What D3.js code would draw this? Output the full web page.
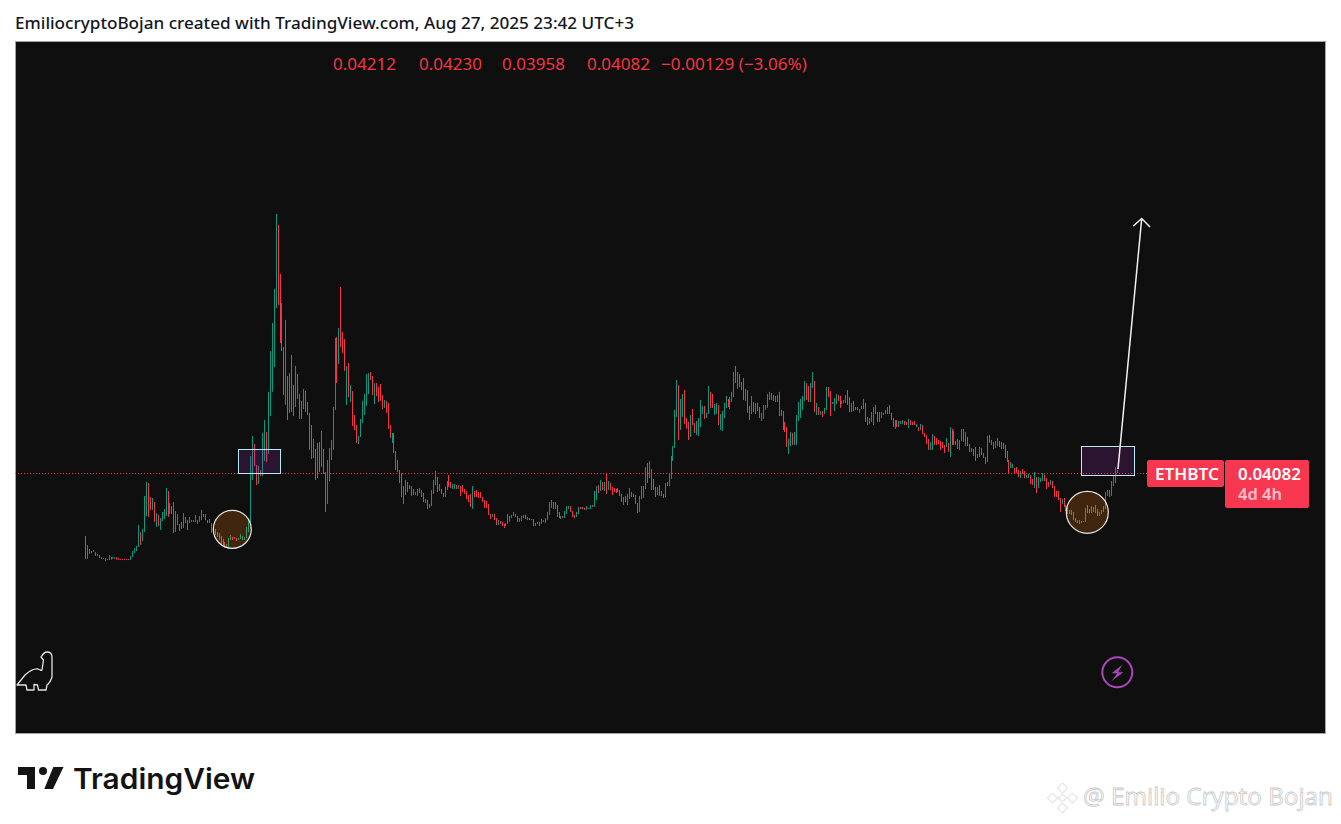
<!DOCTYPE html>
<html>
<head>
<meta charset="utf-8">
<title>ETHBTC</title>
<script src="https://cdn.jsdelivr.net/npm/d3@7/dist/d3.min.js"></script>
<style>
  body { margin: 0; background: #fff; }
  svg { display: block; }
</style>
</head>
<body>
<svg id="chart"></svg>
<script>
// weekly ETHBTC, prices in thousandths of a BTC
let opens = [
  12.9,2.7,4.9,6.2,6.6,5.8,4.0,4.4,3.5,3.1,
  3.1,2.2,2.2,3.5,2.8,2.7,3.5,3.1,2.7,2.7,
  2.7,2.7,2.7,2.2,3.5,5.3,6.2,8.0,14.6,10.6,
  14.6,21.7,36.3,30.1,24.4,27.9,16.8,22.2,15.5,19.5,
  20.4,21.7,32.8,22.6,26.1,27.9,14.6,17.7,18.2,19.1,
  16.4,21.3,19.9,18.6,19.9,19.9,19.1,18.2,19.1,19.9,
  22.6,22.6,19.9,20.4,18.6,17.3,16.0,14.6,14.2,12.9,
  11.5,10.2,7.5,7.5,11.1,12.4,12.4,12.0,11.1,11.5,
  11.1,11.1,12.0,14.6,16.2,37.7,53.6,44.3,35.9,42.1,
  39.4,46.1,58.9,49.2,66.0,76.7,87.7,113.9,150.7,128.9,
  116.1,96.6,70.9,83.7,67.4,93.1,79.8,70.0,84.6,75.8,
  72.7,69.1,77.1,72.2,67.4,62.0,47.4,51.4,38.5,54.5,
  43.4,51.4,41.2,27.0,37.2,46.5,51.0,68.7,101.0,89.1,
  123.2,103.2,100.1,70.9,89.5,72.2,77.1,66.5,62.0,53.6,
  56.7,62.9,66.5,70.5,75.8,85.5,83.7,71.3,80.6,78.9,
  80.2,75.3,69.6,72.7,71.8,62.0,54.1,58.5,50.5,46.5,
  42.1,40.8,27.0,31.0,36.8,35.4,35.0,31.0,31.0,30.6,
  31.9,33.2,31.9,29.2,28.8,27.0,26.1,31.5,35.4,39.0,
  32.8,33.7,31.9,30.1,33.2,39.9,36.8,33.7,33.7,35.4,
  33.7,35.0,35.4,33.7,32.8,31.0,31.5,24.8,32.8,33.2,
  32.3,32.3,30.1,28.8,28.4,27.0,22.6,21.3,22.6,20.8,
  17.7,19.5,19.1,18.2,17.3,18.2,19.1,20.8,21.7,22.6,
  21.7,19.1,19.5,20.8,22.2,19.9,20.8,20.4,20.4,17.3,
  18.2,19.1,18.2,19.9,18.6,19.9,22.2,25.3,27.9,27.9,
  26.6,23.5,20.4,21.7,20.8,22.6,24.8,26.1,23.9,22.2,
  21.3,22.6,25.7,25.7,25.3,24.4,24.8,24.8,26.6,25.7,
  28.8,35.4,32.8,36.8,32.8,40.8,33.2,36.3,34.6,34.1,
  33.7,34.1,33.2,31.5,26.6,30.6,26.6,29.2,32.3,31.5,31.0,
  27.5,23.5,29.2,29.7,33.7,45.2,38.5,42.5,38.1,34.6,
  31.0,35.4,32.8,31.5,30.1,35.0,35.0,38.1,46.1,51.8,
  65.6,79.8,59.8,65.6,77.5,65.1,63.4,56.7,69.1,62.9,
  57.6,57.2,61.1,66.9,70.5,65.1,66.9,76.7,75.8,66.5,
  66.9,70.9,59.8,59.4,65.1,69.6,73.6,69.1,72.2,74.4,
  88.2,78.0,84.6,77.5,82.9,72.7,77.5,70.5,66.9,72.2,
  66.9,71.8,70.0,63.8,64.7,68.7,69.6,73.1,76.2,75.3,
  72.2,72.2,76.7,68.7,68.2,63.4,61.1,49.2,52.7,58.5,
  53.2,53.2,63.8,65.1,68.7,72.7,80.6,79.3,72.2,78.4,
  81.5,66.5,70.0,66.5,68.2,66.9,68.7,78.9,77.1,71.3,
  68.2,71.3,75.3,74.9,72.7,71.8,71.8,77.5,74.4,67.8,
  72.7,68.7,70.0,67.4,69.1,69.1,71.8,62.0,62.5,63.4,
  62.0,70.9,67.8,63.4,65.1,66.5,66.9,66.9,70.9,67.4,
  65.1,60.3,64.2,61.1,62.5,62.5,63.8,63.4,60.7,64.2,63.4,
  63.8,61.1,61.1,59.8,62.0,58.5,57.6,55.8,51.0,51.0,
  57.2,56.3,55.4,54.9,54.5,53.2,52.3,54.1,47.9,60.3,
  59.4,53.2,55.8,51.0,54.9,60.3,52.7,56.7,53.6,51.8,
  51.4,52.3,47.4,47.9,51.8,49.6,47.9,45.6,57.6,55.4,
  51.4,51.8,52.7,54.9,54.5,54.1,53.2,50.5,46.5,43.0,
  43.0,43.0,43.4,42.1,38.5,42.5,41.7,38.5,38.5,39.9,
  38.1,34.1,39.0,34.1,36.8,37.2,39.9,38.5,36.8,35.4,
  37.2,35.0,32.8,32.8,29.7,27.0,29.7,26.6,26.1,24.4,
  24.4,23.5,20.8,19.9,18.2,19.5,19.1,19.1,26.6,24.8,
  23.0,23.5,23.0,24.8,21.7,22.6,23.5,24.8,30.6,33.2,
  30.6,35.0,36.3,42.1
];
let closes = [
  2.7,8.9,7.1,5.2,5.8,4.0,4.9,3.1,2.7,2.7,
  1.8,2.7,4.4,2.4,3.5,3.4,2.4,2.2,2.2,2.2,
  2.2,2.2,2.2,4.0,6.2,7.4,8.4,17.7,8.9,16.0,
  30.6,36.8,21.3,24.4,29.7,19.1,23.0,17.3,20.8,23.5,
  24.8,34.1,21.3,27.5,22.6,14.2,23.9,22.6,15.1,16.0,
  23.0,18.6,15.5,21.3,19.1,19.1,22.2,19.9,21.7,24.4,
  21.3,19.9,18.6,18.6,14.2,14.2,13.3,12.4,11.1,9.3,
  8.0,7.5,9.3,12.0,13.3,11.1,11.5,10.6,12.0,13.7,
  12.9,12.4,16.8,19.9,48.3,57.2,43.9,35.4,43.9,39.4,
  58.5,64.2,45.6,76.7,94.8,107.2,122.3,155.5,115.2,98.4,
  94.8,75.3,108.6,64.2,85.1,67.8,66.0,88.2,73.6,64.7,
  64.7,78.0,67.8,66.5,51.0,47.0,55.8,37.7,54.1,41.2,
  59.4,40.3,23.5,46.5,51.8,55.4,70.0,100.6,80.6,105.0,
  96.6,93.9,86.0,88.2,74.4,79.8,61.6,59.8,54.1,57.2,
  64.7,72.7,75.8,84.6,85.1,82.0,75.3,80.6,74.9,72.2,
  72.7,69.1,73.1,67.4,60.3,56.3,58.5,49.6,42.1,41.2,
  36.3,30.1,35.0,37.7,32.3,33.7,30.6,33.7,32.3,33.7,
  34.1,30.1,27.9,27.5,24.8,25.3,33.2,37.7,41.7,32.3,
  35.9,31.5,30.1,34.6,37.2,34.6,34.1,35.9,35.9,33.7,
  35.4,30.6,32.3,31.5,29.2,27.9,25.7,35.0,30.1,30.1,
  29.7,29.7,27.9,25.3,25.3,22.2,20.4,22.6,19.9,17.7,
  19.9,18.2,17.3,16.4,18.6,22.6,21.7,22.2,23.5,21.3,
  19.1,20.8,21.7,22.2,20.4,21.3,19.9,19.9,17.3,18.6,
  19.1,17.3,20.4,19.1,20.8,23.5,27.9,28.8,24.8,24.8,
  21.3,20.8,21.7,20.8,23.9,26.1,26.1,23.5,21.3,20.8,
  23.5,25.7,24.8,24.8,24.4,26.1,25.3,26.6,25.7,32.8,
  35.0,31.9,37.7,33.2,36.8,31.5,37.2,33.2,31.0,32.3,
  31.9,32.3,30.6,27.9,30.1,27.9,31.5,34.1,30.1,30.1,27.0,
  23.0,30.6,35.0,35.0,43.4,36.3,46.1,33.2,33.2,30.1,
  34.6,30.6,30.6,29.7,36.3,36.8,40.8,48.3,52.7,68.7,
  82.0,55.4,73.6,75.8,62.5,60.3,55.4,66.5,62.0,58.5,
  63.8,65.1,73.1,70.5,64.7,67.4,79.3,69.6,69.6,71.3,
  71.8,62.0,66.9,68.2,71.8,74.9,70.0,74.4,76.7,85.5,
  80.6,85.5,78.9,81.1,73.1,78.0,67.4,64.2,74.9,67.8,
  71.8,68.2,65.1,67.4,70.9,70.9,75.8,76.7,73.1,72.7,
  74.9,75.3,66.0,66.0,59.8,58.9,52.3,55.8,58.9,53.2,
  58.9,66.5,72.2,73.6,74.9,81.5,73.1,72.2,80.6,85.5,
  67.8,71.8,66.5,68.2,65.6,69.6,78.9,74.4,66.0,72.2,
  74.0,75.8,72.7,69.6,71.3,73.1,75.3,70.9,67.8,71.8,
  68.2,70.0,68.7,69.1,70.5,73.6,63.4,65.6,65.1,67.8,
  70.0,66.9,63.4,67.8,67.8,67.4,68.7,70.0,66.9,64.2,
  61.1,64.2,61.1,63.8,63.8,64.2,62.0,62.0,64.7,62.0,62.0,
  62.0,62.5,59.4,62.5,58.0,56.7,53.6,51.0,54.5,58.0,
  53.2,53.2,53.6,51.0,51.8,49.6,56.3,50.1,61.1,53.2,
  53.2,54.9,51.4,55.4,60.3,54.5,58.9,52.7,50.1,50.1,
  48.3,46.1,49.2,52.3,48.7,47.4,44.8,57.2,54.1,53.2,
  54.5,54.9,56.3,52.3,51.4,51.4,47.4,45.6,40.3,45.6,
  44.8,40.3,40.8,39.0,41.7,40.3,38.5,39.9,40.3,35.9,
  35.4,41.2,31.9,39.0,38.5,40.8,37.2,33.7,34.6,37.7,
  34.1,30.1,30.1,28.8,23.5,29.2,25.7,23.9,22.6,22.6,
  22.2,19.9,19.1,18.6,19.9,18.6,19.5,25.3,23.0,23.0,
  26.1,25.7,26.6,21.7,23.5,24.4,26.1,32.3,33.2,30.1,
  37.2,39.4,43.4,40.8
];

let headerText = "EmiliocryptoBojan created with TradingView.com, Aug 27, 2025 23:42 UTC+3";
let ohlcLabels = ["0.04212", "0.04230", "0.03958", "0.04082", "\u22120.00129 (\u22123.06%)"];
let lastPrice = 40.82;
let topPrice = 155.5;

function getConfig() {
  let width = 1341;
  let height = 824;
  let panel = { left: 15, right: 1325, top: 41, bottom: 733 };
  let container = d3.select("#chart")
    .attr("width", width)
    .attr("height", height)
    .attr("viewBox", `0 0 ${width} ${height}`);
  return { width, height, panel, container };
}

function getScales() {
  let xScale = d3.scaleLinear().domain([0, opens.length - 1]).range([84.98, 1116.56]);
  let yScale = d3.scaleLinear().domain([0, topPrice]).range([565, 214]);
  return { xScale, yScale };
}

function drawPanel(config) {
  let { container, panel } = config;
  container.append("rect")
    .attr("x", panel.left + 0.5).attr("y", panel.top + 0.5)
    .attr("width", panel.right - panel.left)
    .attr("height", panel.bottom - panel.top)
    .attr("fill", "#0f0f0f")
    .attr("stroke", "#a3a3a3");

  container.append("text")
    .attr("x", 15).attr("y", 29)
    .attr("textLength", 619).attr("lengthAdjust", "spacingAndGlyphs")
    .attr("font-family", "'Noto Sans', sans-serif")
    .attr("font-size", 16).attr("font-weight", 500)
    .attr("fill", "#131722")
    .text(headerText);

  let labelBoxes = [[333, 63], [419, 63], [502, 63], [587, 63], [661, 146]];
  container.selectAll(".ohlc")
    .data(ohlcLabels)
    .enter().append("text")
    .attr("class", "ohlc")
    .attr("x", (d, i) => labelBoxes[i][0]).attr("y", 70)
    .attr("textLength", (d, i) => labelBoxes[i][1]).attr("lengthAdjust", "spacingAndGlyphs")
    .attr("font-family", "'Noto Sans', sans-serif")
    .attr("font-size", 16)
    .attr("fill", "#f23645")
    .text(d => d);
}

function drawBars(config, scales) {
  let { container } = config;
  let { xScale, yScale } = scales;
  let up = "#089981";
  let down = "#f7354a";

  container.append("g").selectAll("rect")
    .data(opens)
    .enter().append("rect")
    .attr("x", (d, i) => Math.round(xScale(i)))
    .attr("width", 1)
    .attr("y", (d, i) => yScale(Math.max(d, closes[i])))
    .attr("height", (d, i) => Math.max(1, Math.abs(yScale(d) - yScale(closes[i]))))
    .attr("fill", (d, i) => closes[i] >= d ? up : down);

  container.append("line")
    .attr("x1", config.panel.left).attr("x2", 1147)
    .attr("y1", Math.round(yScale(lastPrice)) + 0.5).attr("y2", Math.round(yScale(lastPrice)) + 0.5)
    .attr("stroke", "#f23645")
    .attr("stroke-dasharray", "1 2");
}

function drawAnnotations(config) {
  let { container } = config;
  let zones = [[238.5, 449.5, 42, 24], [1081.5, 446.5, 53, 29]];
  container.selectAll(".zone")
    .data(zones)
    .enter().append("rect")
    .attr("class", "zone")
    .attr("x", d => d[0]).attr("y", d => d[1])
    .attr("width", d => d[2]).attr("height", d => d[3])
    .attr("fill", "rgba(156,39,176,0.2)")
    .attr("stroke", "#b2ebf2");

  let rings = [[232.3, 529.3, 19], [1087.3, 512.3, 21]];
  container.selectAll(".ring")
    .data(rings)
    .enter().append("circle")
    .attr("class", "ring")
    .attr("cx", d => d[0]).attr("cy", d => d[1]).attr("r", d => d[2])
    .attr("fill", "rgba(255,130,0,0.2)")
    .attr("stroke", "#e6e6e6")
    .attr("stroke-width", 1.2);

  // the arrow pointing up from the last bar
  container.append("path")
    .attr("d", "M1118,469L1141.7,218.5M1133.3,226L1141.7,218.5L1150,227")
    .attr("fill", "none")
    .attr("stroke", "#f2f2f2")
    .attr("stroke-width", 1.5);
}

function drawPriceLabel(config) {
  let { container } = config;
  let red = "#f7374f";
  container.append("rect").attr("x", 1147).attr("y", 460).attr("width", 77).attr("height", 27).attr("rx", 2).attr("fill", red);
  container.append("rect").attr("x", 1225).attr("y", 460).attr("width", 84).attr("height", 48).attr("rx", 2).attr("fill", red);

  let labels = [
    { text: "ETHBTC", x: 1155, y: 480, w: 64, color: "#fff", weight: 600 },
    { text: "0.04082", x: 1238, y: 480, w: 63, color: "#fff", weight: 600 },
    { text: "4d 4h", x: 1238, y: 500, w: 44, color: "#ffc2c9", weight: 600 }
  ];
  container.selectAll(".pricelabel")
    .data(labels)
    .enter().append("text")
    .attr("class", "pricelabel")
    .attr("x", d => d.x).attr("y", d => d.y)
    .attr("textLength", d => d.w).attr("lengthAdjust", "spacingAndGlyphs")
    .attr("font-family", "'Noto Sans', sans-serif")
    .attr("font-size", 16).attr("font-weight", d => d.weight)
    .attr("fill", d => d.color)
    .text(d => d.text);
}

function drawIcons(config) {
  let { container } = config;

  // dino in the corner of the panel
  container.append("path")
    .attr("d", "M17,685L25,675Q33,668 38,669Q42,671 42,670L43.5,660L41,657Q44,652 47,652Q52,652 52,657L52,677Q50,683 47,685L46,690L38.5,690L37.5,685L34,684.5L34,690L27,690L26,685Z")
    .attr("fill", "none")
    .attr("stroke", "#e3e3e3")
    .attr("stroke-width", 1.3)
    .attr("stroke-linejoin", "round");

  // lightning badge
  container.append("circle")
    .attr("cx", 1117.3).attr("cy", 672.3).attr("r", 15)
    .attr("fill", "none").attr("stroke", "#ab47bc").attr("stroke-width", 2);
  container.append("path")
    .attr("d", "M1122.3,664.7L1111.7,673.3L1117.3,673.3L1111.7,681L1123.3,672.3L1118,672.3Z")
    .attr("fill", "#ab47bc");

  // TradingView logo
  let ink = "#131313";
  container.append("path")
    .attr("d", "M18,767H35V789H27V775H18ZM53.3,767H63.5L53,789H44.3Z")
    .attr("fill", ink);
  container.append("circle").attr("cx", 43).attr("cy", 771).attr("r", 4).attr("fill", ink);
  container.append("text")
    .attr("x", 73).attr("y", 789)
    .attr("textLength", 182).attr("lengthAdjust", "spacingAndGlyphs")
    .attr("font-family", "Inter, 'Noto Sans', sans-serif")
    .attr("font-size", 29).attr("font-weight", 600)
    .attr("fill", ink)
    .text("TradingView");

  // watermark in the corner
  let wm = container.append("g")
    .attr("fill", "#fff")
    .attr("stroke", "#c9c9c9")
    .attr("stroke-width", 0.8);
  let diamonds = [[1062.5, 788, 5], [1052.5, 798, 5], [1072.5, 798, 5], [1062.5, 808, 5], [1062.5, 798, 4]];
  wm.selectAll("path")
    .data(diamonds)
    .enter().append("path")
    .attr("d", d => `M${d[0]},${d[1] - d[2]}L${d[0] + d[2]},${d[1]}L${d[0]},${d[1] + d[2]}L${d[0] - d[2]},${d[1]}Z`);
  wm.append("text")
    .attr("x", 1083).attr("y", 805)
    .attr("textLength", 250).attr("lengthAdjust", "spacingAndGlyphs")
    .attr("font-family", "'Open Sans', sans-serif")
    .attr("font-size", 24)
    .text("@ Emilio Crypto Bojan");
}

function showData() {
  let config = getConfig();
  let scales = getScales();
  drawPanel(config);
  drawBars(config, scales);
  drawAnnotations(config);
  drawPriceLabel(config);
  drawIcons(config);
}

showData();
</script>
</body>
</html>
